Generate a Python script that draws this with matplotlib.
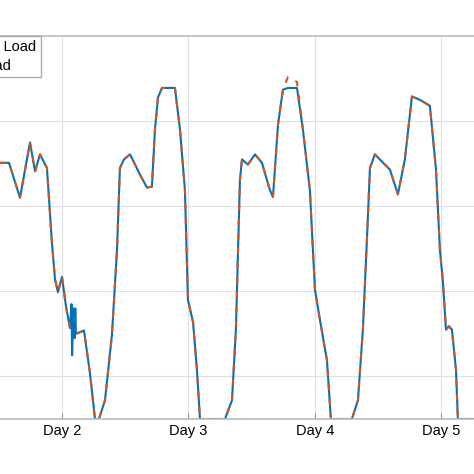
import matplotlib
matplotlib.use("Agg")
import matplotlib.pyplot as plt

# time in days, load in grid units
days = [1.510, 1.581, 1.668, 1.747, 1.787, 1.826, 1.881, 1.921, 1.945, 1.968, 2.0, 2.032, 2.063,
        2.126, 2.174, 2.221, 2.261, 2.292, 2.340, 2.395, 2.435, 2.458, 2.490, 2.538, 2.617, 2.672,
        2.711, 2.735, 2.759, 2.791, 2.893, 2.933, 2.972, 2.996, 3.036, 3.067, 3.091, 3.289, 3.344,
        3.375, 3.407, 3.423, 3.470, 3.526, 3.581, 3.644, 3.668, 3.708, 3.747, 3.787, 3.858, 3.905,
        3.960, 4.0, 4.040, 4.095, 4.126, 4.292, 4.340, 4.379, 4.411, 4.435, 4.474, 4.553, 4.593,
        4.656, 4.711, 4.767, 4.830, 4.909, 4.957, 4.988, 5.012, 5.036, 5.059, 5.083, 5.115, 5.130,
        5.257, 5.45]
forecast = [3.01, 3.01, 2.60, 3.25, 2.91, 3.11, 2.95, 2.06, 1.64, 1.49, 1.67, 1.32, 1.07,
            1.01, 1.04, 0.54, 0.0, 0.0, 0.22, 0.99, 1.99, 2.95, 3.05, 3.11, 2.87, 2.72,
            2.73, 3.40, 3.78, 3.89, 3.89, 3.40, 2.69, 1.40, 1.14, 0.58, 0.0, 0.0, 0.22,
            1.05, 2.81, 3.05, 2.99, 3.11, 3.01, 2.69, 2.61, 3.46, 3.87, 4.02, 3.96, 3.40,
            2.69, 1.52, 1.16, 0.69, 0.0, 0.0, 0.22, 1.05, 2.11, 2.95, 3.11, 2.99, 2.93,
            2.64, 3.05, 3.79, 3.75, 3.68, 2.93, 1.99, 1.61, 1.05, 1.09, 1.05, 0.58, 0.0,
            0.0, 0.0]
actual = [3.01, 3.01, 2.60, 3.25, 2.91, 3.11, 2.95, 2.06, 1.64, 1.49, 1.67, 1.32, 1.07,
          1.01, 1.04, 0.54, 0.0, 0.0, 0.22, 0.99, 1.99, 2.95, 3.05, 3.11, 2.87, 2.72,
          2.73, 3.40, 3.78, 3.89, 3.89, 3.40, 2.69, 1.40, 1.14, 0.58, 0.0, 0.0, 0.22,
          1.05, 2.81, 3.05, 2.99, 3.11, 3.01, 2.69, 2.61, 3.46, 3.87, 3.89, 3.89, 3.40,
          2.69, 1.52, 1.16, 0.69, 0.0, 0.0, 0.22, 1.05, 2.11, 2.95, 3.11, 2.99, 2.93,
          2.64, 3.05, 3.79, 3.75, 3.68, 2.93, 1.99, 1.61, 1.05, 1.09, 1.05, 0.58, 0.0,
          0.0, 0.0]
# noisy stretch in the measured series after day 2
spike_days = [2.063, 2.075, 2.08, 2.09, 2.10, 2.105, 2.11, 2.126]
spike_load = [1.07, 1.35, 0.75, 1.30, 0.95, 1.30, 1.00, 1.01]

tick_days = [2, 3, 4, 5]
tick_labels = ["Day 2", "Day 3", "Day 4", "Day 5"]
legend_labels = ["Measured Load", "Model Load"]

plt.rcParams["font.family"] = ["Liberation Sans", "DejaVu Sans"]
fig = plt.figure(figsize=(4.74, 4.74), dpi=100)
ax = fig.add_axes([-0.056, 0.116, 1.094, 0.808])

# merge spike points into the measured series
act_x, act_y = [], []
for d, v in zip(days, actual):
    act_x.append(d)
    act_y.append(v)
    if d == 2.063:
        act_x.extend(spike_days[1:-1])
        act_y.extend(spike_load[1:-1])

ax.plot(act_x, act_y, color="#0072BD", linewidth=1.5, label=legend_labels[0])
ax.plot(days, forecast, color="#D95319", linewidth=1.5, linestyle=(0, (3, 4)), label=legend_labels[1])

ax.set_xlim(1.3, 5.4)
ax.set_ylim(0, 4.5)
ax.set_xticks(tick_days)
ax.set_xticklabels(tick_labels, fontsize=10.5)
ax.set_yticks([0.5, 1.5, 2.5, 3.5])
ax.set_yticklabels([])
ax.grid(True, color="#e0e0e0", linewidth=0.8)
ax.tick_params(direction="in", length=4, color="#999999")
for s in ax.spines.values():
    s.set_color("#bbbbbb")
    s.set_linewidth(1.2)

fig.legend(loc="upper right", bbox_to_anchor=(41 / 474, 1 - 36 / 474), fontsize=10.5,
           frameon=True, fancybox=False, edgecolor="#999999", borderaxespad=0,
           handlelength=2.5, labelspacing=0.3, borderpad=0.3)

fig.savefig("out.png", dpi=100)
